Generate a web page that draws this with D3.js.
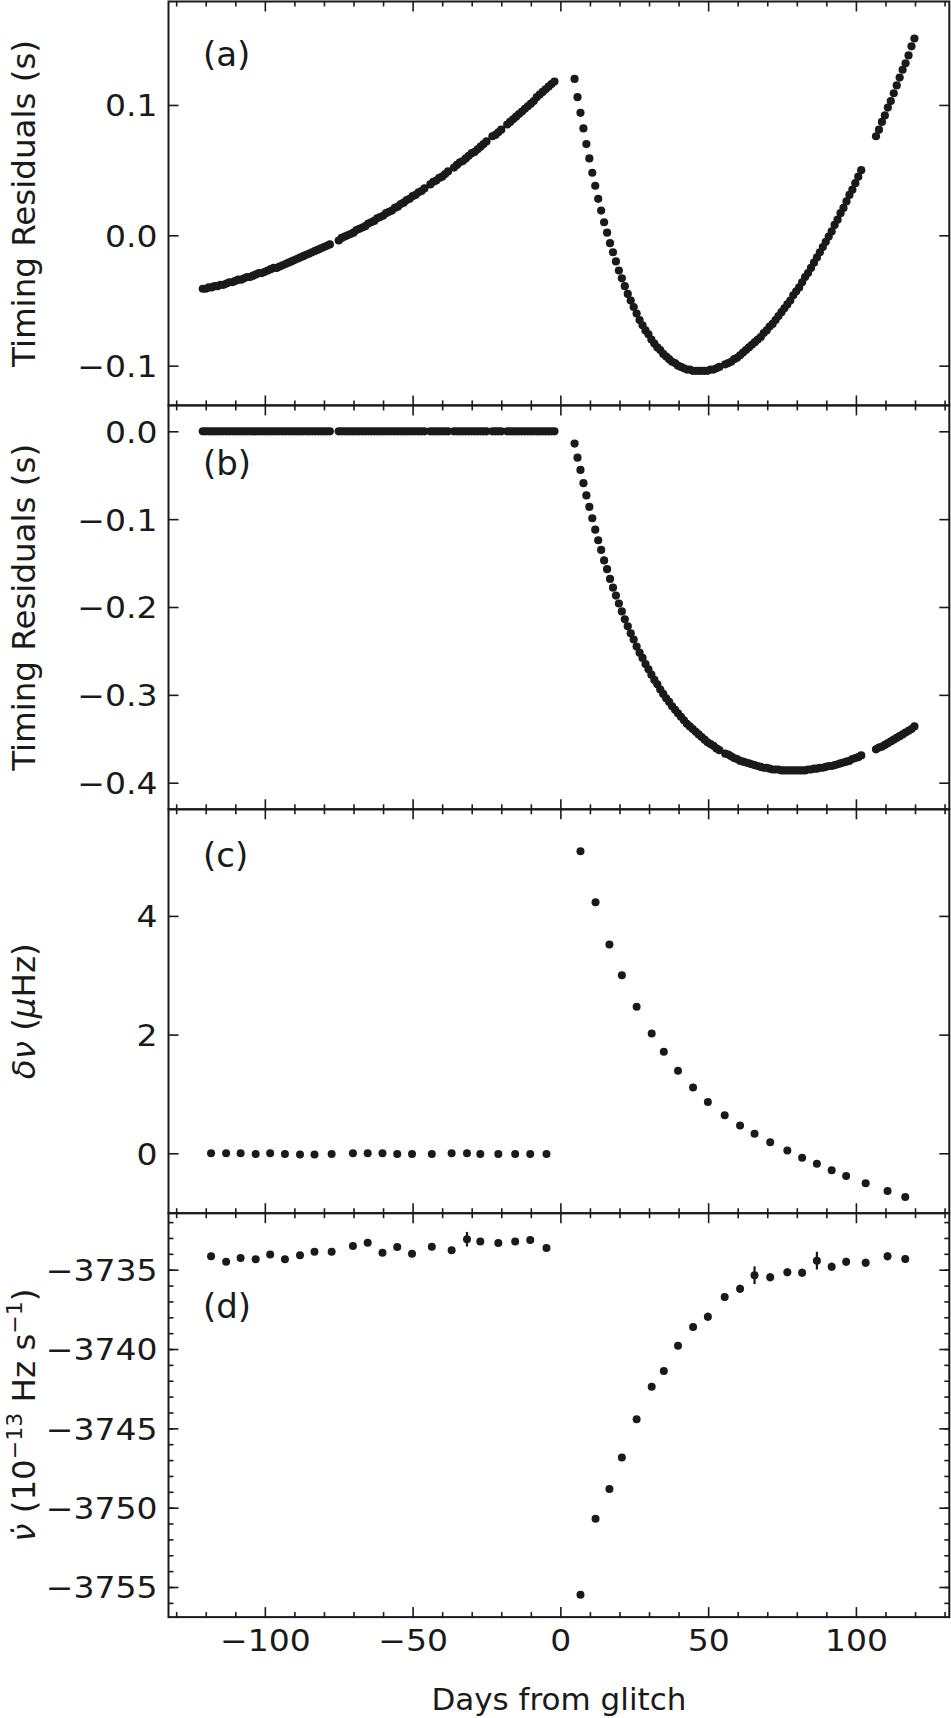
<!DOCTYPE html>
<html>
<head>
<script src="https://d3js.org/d3.v7.min.js"></script>
<style>
	body { margin: 0; background: #fff; }
	svg text { font-family: "DejaVu Sans", sans-serif; fill: #1a1a1a; }
</style>
</head>
<body>
<script>
	var width = 951;
	var height = 1718;

	// (a), (b) timing residuals in ms, one TOA per day, null = no TOA
	var preStart = -121;
	var resAPre = [
		-41, -41, -40, -40, -39, -39, -38, -38, -37, -36,
		-36, -35, -34, -34, -33, -32, -32, -31, -30, -29,
		-29, -28, -27, -26, -25, -25, -24, -23, -22, -21,
		-20, -19, -18, -17, -16, -15, -14, -13, -12, -11,
		-10, -9, -8, -7, null, null, -4, -2, -1, 0,
		1, 2, 4, 5, 6, 7, 9, 10, 11, 13,
		14, 15, 17, 18, 19, 21, 22, 24, 25, 27,
		28, 30, 31, 33, 34, 36, null, 39, 41, 42,
		44, 45, 47, 49, null, 52, 54, 56, 57, 59,
		61, 63, 64, 66, 68, 70, 72, null, 76, 77,
		79, 81, null, 85, 87, 89, 91, 93, 95, 97,
		99, 101, 103, 106, 108, 110, 112, 114, 116, 118]
	var resBPre = [
		0, 0, 0, 0, 0, 0, 0, 0, 0, 0,
		0, 0, 0, 0, 0, 0, 0, 0, 0, 0,
		0, 0, 0, 0, 0, 0, 0, 0, 0, 0,
		0, 0, 0, 0, 0, 0, 0, 0, 0, 0,
		0, 0, 0, 0, null, null, 0, 0, 0, 0,
		0, 0, 0, 0, 0, 0, 0, 0, 0, 0,
		0, 0, 0, 0, 0, 0, 0, 0, 0, 0,
		0, 0, 0, 0, 0, 0, null, 0, 0, 0,
		0, 0, 0, 0, null, 0, 0, 0, 0, 0,
		0, 0, 0, 0, 0, 0, 0, null, 0, 0,
		0, 0, null, 0, 0, 0, 0, 0, 0, 0,
		0, 0, 0, 0, 0, 0, 0, 0, 0, 0]

	var postStart = 4.8;
	var resAPost = [
		120, 106, 94, 82, 70, 59, 48, 38, 28, 19,
		10, 2, -6, -13, -20, -27, -33, -39, -45, -50,
		-55, -60, -65, -69, -73, -76, -80, -83, -86, -88,
		-91, -93, -95, -97, -98, -100, -101, -102, -103, -103,
		-104, -104, -104, -104, -104, -104, -103, -103, -102, -101,
		null, -99, -98, -97, -95, -94, -92, -90, -88, -86,
		-84, -82, -80, -78, -75, -73, -70, -68, -65, -62,
		-59, -56, -53, -50, -46, -43, -40, -36, -32, -29,
		-25, -21, -17, -13, -9, -5, -1, 3, 8, 12,
		17, 21, 26, 31, 35, 40, 45, 50, null, null,
		null, null, 76, 81, 87, 92, 98, 103, 109, 115,
		121, 127, 132, 138, 145, 151]
	var resBPost = [
		-14, -30, -44, -59, -73, -86, -99, -112, -124, -135,
		-147, -157, -168, -178, -187, -196, -205, -214, -222, -230,
		-237, -245, -252, -258, -265, -271, -277, -283, -288, -294,
		-299, -304, -308, -313, -317, -321, -325, -329, -333, -336,
		-339, -342, -345, -348, -351, -354, -356, -358, -361, -363,
		null, -367, -368, -370, -372, -373, -375, -376, -377, -378,
		-379, -380, -381, -382, -383, -383, -384, -385, -385, -385,
		-386, -386, -386, -386, -386, -386, -386, -386, -386, -385,
		-385, -384, -384, -383, -383, -382, -381, -381, -380, -379,
		-378, -377, -376, -375, -373, -372, -371, -369, null, null,
		null, null, -362, -360, -359, -357, -355, -353, -351, -349,
		-347, -345, -343, -341, -339, -336]

	// (c), (d) fitted epochs (days from glitch)
	var epochs = [-118.2, -113.1, -108.2, -103.1, -98.2, -93.2, -88.1, -83.2, -77.4, -70.2,
		-65.2, -60.2, -55.2, -50.2, -43.5, -36.8, -31.6, -27.1, -21.0, -15.3, -10.2, -4.7,
		6.8, 11.9, 16.6, 20.8, 25.8, 30.9, 35.0, 39.8, 44.9, 49.9, 55.6, 60.8, 65.7,
		71.0, 76.8, 81.8, 86.8, 91.8, 96.7, 103.3, 110.7, 116.7]

	// (c) delta nu, microHz
	var dNu = [0, 0, 0, -0.01, 0, -0.01, -0.02, -0.02, -0.01, 0,
		0, 0, -0.01, -0.01, -0.01, 0, 0, -0.01, -0.01, -0.01, -0.01, -0.01,
		5.09, 4.23, 3.52, 3.00, 2.47, 2.02, 1.71, 1.39, 1.11, 0.865, 0.64, 0.47, 0.33,
		0.185, 0.045, -0.074, -0.175, -0.287, -0.383, -0.506, -0.636, -0.737]

	// (d) nu-dot, 1e-13 Hz/s
	var nuDot = [-3734.16, -3734.50, -3734.26, -3734.34, -3734.05, -3734.34, -3734.09, -3733.87, -3733.87, -3733.51,
		-3733.30, -3733.93, -3733.57, -3733.99, -3733.55, -3733.78, -3733.08, -3733.23, -3733.32, -3733.23, -3733.13, -3733.63,
		-3755.49, -3750.70, -3748.83, -3746.83, -3744.43, -3742.38, -3741.39, -3739.79, -3738.61, -3737.96, -3736.72, -3736.20, -3735.35,
		-3735.48, -3735.16, -3735.19, -3734.43, -3734.81, -3734.50, -3734.56, -3734.16, -3734.33]
	var nuDotErr = [0.2, 0.2, 0.2, 0.2, 0.2, 0.2, 0.2, 0.2, 0.2, 0.2,
		0.2, 0.2, 0.2, 0.2, 0.2, 0.2, 0.46, 0.2, 0.2, 0.2, 0.2, 0.2,
		0.2, 0.2, 0.2, 0.2, 0.2, 0.2, 0.2, 0.2, 0.2, 0.25, 0.25, 0.25, 0.56,
		0.25, 0.25, 0.25, 0.56, 0.25, 0.25, 0.25, 0.25, 0.25]

	var xMajor = [-100, -50, 0, 50, 100];
	var xMinor = d3.range(-130, 131, 10).filter(d => d % 50 !== 0);

	var ink = "#1a1a1a";
	var left = 168.5, right = 949.3;
	var top0 = 1.5, panelH = 403.9;

	function daily(start, vals) {
		return vals.map((v, i) => v == null ? null : { t: start + i, v: v / 1000 })
			.filter(d => d);
	}

	var panels = [
		{ tag: "(a)", tagDy: 64, domain: [-0.13049, 0.17937], ticks: [-0.1, 0, 0.1], minor: [],
			fmt: d3.format(".1f"), pts: daily(preStart, resAPre).concat(daily(postStart, resAPost)) },
		{ tag: "(b)", tagDy: 70, domain: [-0.43028, 0.02948], ticks: [-0.4, -0.3, -0.2, -0.1, 0], minor: [],
			fmt: d3.format(".1f"), pts: daily(preStart, resBPre).concat(daily(postStart, resBPost)) },
		{ tag: "(c)", tagDy: 58, domain: [-1.0096, 5.7964], ticks: [0, 2, 4], minor: [],
			fmt: d3.format("d"), pts: epochs.map((t, i) => ({ t: t, v: dNu[i] })) },
		{ tag: "(d)", tagDy: 105, domain: [-3756.897, -3731.439], ticks: [-3755, -3750, -3745, -3740, -3735],
			minor: d3.range(-3756, -3731), fmt: d3.format("d"),
			pts: epochs.map((t, i) => ({ t: t, v: nuDot[i], e: nuDotErr[i] })) }
	];

	var svg = d3.select("body")
		.append("svg")
		.attr("width", width)
		.attr("height", height)
		.style("background", "#fff")

	var xScale = d3.scaleLinear()
		.domain([-132.6, 131.6])
		.range([left, right])

	var stretch = 1.12;   // tick labels in the figure are a bit wide

	function styleAxis(g) {
		g.select(".domain").remove();
		g.selectAll(".tick line").attr("stroke", ink).attr("stroke-width", 1.6);
		g.selectAll(".tick text")
			.attr("fill", ink)
			.style("font-size", "29.5px")
			.attr("transform", "scale(" + stretch + ",1)");
	}

	panels.forEach(function(p, k) {
		var y0 = top0 + k * panelH, y1 = y0 + panelH;
		var yScale = d3.scaleLinear().domain(p.domain).range([y1, y0]);
		var g = svg.append("g");
		var last = k === panels.length - 1;

		// x ticks top and bottom, pointing in
		[[d3.axisBottom, y1], [d3.axisTop, y0]].forEach(function(a) {
			g.append("g").attr("transform", "translate(0," + a[1] + ")")
				.call(a[0](xScale).tickValues(xMinor).tickSize(-5).tickFormat(""))
				.call(styleAxis);
			g.append("g").attr("transform", "translate(0," + a[1] + ")")
				.call(a[0](xScale).tickValues(xMajor).tickSize(-10).tickPadding(13)
					.tickFormat(last && a[1] === y1 ? d3.format("d") : ""))
				.call(styleAxis);
		});

		// y ticks left and right
		[[d3.axisLeft, left], [d3.axisRight, right]].forEach(function(a) {
			if (p.minor.length) {
				g.append("g").attr("transform", "translate(" + a[1] + ",0)")
					.call(a[0](yScale).tickValues(p.minor).tickSize(-5).tickFormat(""))
					.call(styleAxis);
			}
			var ax = g.append("g").attr("transform", "translate(" + a[1] + ",0)")
				.call(a[0](yScale).tickValues(p.ticks).tickSize(-10).tickPadding(11 / stretch)
					.tickFormat(a[1] === left ? p.fmt : ""))
				.call(styleAxis);
			ax.selectAll(".tick text").attr("dy", "0.37em");
		});

		g.append("rect")
			.attr("x", left).attr("y", y0)
			.attr("width", right - left).attr("height", panelH)
			.attr("fill", "none").attr("stroke", ink).attr("stroke-width", 2)

		// error bars (panel d)
		g.selectAll("line.err")
			.data(p.pts.filter(d => d.e))
			.enter()
			.append("line")
			.attr("x1", d => xScale(d.t)).attr("x2", d => xScale(d.t))
			.attr("y1", d => yScale(d.v - d.e)).attr("y2", d => yScale(d.v + d.e))
			.attr("stroke", ink).attr("stroke-width", 2.2)

		g.selectAll("circle")
			.data(p.pts)
			.enter()
			.append("circle")
			.attr("cx", d => xScale(d.t))
			.attr("cy", d => yScale(d.v))
			.attr("r", k < 2 ? 4.1 : 4)
			.attr("fill", ink)

		g.append("text")
			.attr("x", 203).attr("y", y0 + p.tagDy)
			.style("font-size", "34px")
			.text(p.tag)

		// y label
		var lab = g.append("text")
			.attr("transform", "translate(35," + (y0 + panelH / 2) + ") rotate(-90)")
			.attr("text-anchor", "middle")
			.style("font-size", "32.5px")
		if (k < 2) {
			lab.text("Timing Residuals (s)");
		} else if (k === 2) {
			lab.append("tspan").style("font-style", "italic").text("δν");
			lab.append("tspan").text(" (");
			lab.append("tspan").style("font-style", "italic").text("μ");
			lab.append("tspan").text("Hz)");
		} else {
			lab.append("tspan").style("font-style", "italic").text("ν\u0307");
			lab.append("tspan").text("  (10");
			lab.append("tspan").attr("dy", -13).style("font-size", "22px").text("−13");
			lab.append("tspan").attr("dy", 13).text(" Hz s");
			lab.append("tspan").attr("dy", -13).style("font-size", "22px").text("−1");
			lab.append("tspan").attr("dy", 13).text(")");
		}
	});

	svg.append("text")
		.attr("x", (left + right) / 2)
		.attr("y", 1710)
		.attr("text-anchor", "middle")
		.style("font-size", "31px")
		.text("Days from glitch")
</script>
</body>
</html>
